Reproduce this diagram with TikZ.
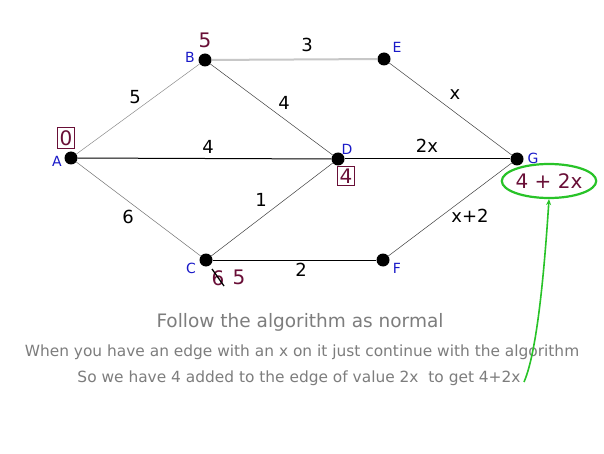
\documentclass[tikz,border=0pt]{standalone}
\usepackage{fontspec}
\setmainfont{DejaVu Sans}
\usepackage{tikz}
\usetikzlibrary{arrows.meta,shapes.geometric}

\definecolor{vname}{RGB}{25,25,200}
\definecolor{vval}{RGB}{105,15,55}
\definecolor{hand}{RGB}{40,195,40}
\definecolor{note}{RGB}{125,125,125}

\tikzset{
    vertex/.style={circle, fill=black, inner sep=0pt, minimum size=13pt},
    vlabel/.style={font={\fontsize{14}{16}\selectfont}, text=vname},
    wlabel/.style={font={\fontsize{18}{21}\selectfont}, black},
    dist/.style={font={\fontsize{20}{23}\selectfont}, text=vval},
    distbox/.style={dist, draw=vval, line width=1pt, inner sep=2.5pt},
    thinedge/.style={draw=black!75, line width=0.5pt},
    boldedge/.style={draw=black, line width=1pt}
}

\begin{document}
\begin{tikzpicture}[x=1pt, y=-1pt]
        \useasboundingbox[fill=white] (0,0) rectangle (604,454);

        % vertices
        \node[vertex] (A) at (71,158) {};
        \node[vertex] (B) at (205,60) {};
        \node[vertex] (E) at (384,59) {};
        \node[vertex] (D) at (338,159) {};
        \node[vertex] (G) at (517,159) {};
        \node[vertex] (C) at (206,260) {};
        \node[vertex] (F) at (383,260) {};

        % edges
        \draw[draw=black!45, line width=0.5pt] (A) -- (B);
        \draw[boldedge] (A) -- (D);
        \draw[draw=black!55, line width=0.5pt] (A) -- (C);
        \draw[draw=black!22, line width=2pt] (B) -- (E);
        \draw[thinedge] (B) -- (D);
        \draw[thinedge] (C) -- (D);
        \draw[boldedge] (C) -- (F);
        \draw[boldedge] (D) -- (G);
        \draw[thinedge] (E) -- (G);
        \draw[thinedge] (F) -- (G);

        % vertex names
        \node[vlabel] (nA) at (57,161) {A};
        \node[vlabel] (nB) at (190,57) {B};
        \node[vlabel] (nE) at (397,47) {E};
        \node[vlabel] (nD) at (347,149) {D};
        \node[vlabel] (nG) at (533,158) {G};
        \node[vlabel] (nC) at (191,268) {C};
        \node[vlabel] (nF) at (397,268) {F};

        % weights
        \node[wlabel] (wAB) at (135,97) {5};
        \node[wlabel] (wAD) at (208,147) {4};
        \node[wlabel] (wAC) at (128,217) {6};
        \node[wlabel] (wBE) at (307,45) {3};
        \node[wlabel] (wBD) at (284,103) {4};
        \node[wlabel] (wCD) at (261,200) {1};
        \node[wlabel] (wCF) at (301,270) {2};
        \node[wlabel] (wDG) at (427,146) {2x};
        \node[wlabel] (wEG) at (455,95) {x};
        \node[wlabel] (wFG) at (470,216) {x+2};

        % distances
        \node[distbox] (dA) at (66,138) {0};
        \node[dist] (dB) at (205,40) {5};
        \node[distbox] (dD) at (346,176) {4};
        \node[dist] (dC) at (218,278) {6};
        \draw[black, line width=1.3pt] (212,269) -- (224,286);
        \node[dist] (dC2) at (239,277) {5};

        \node[ellipse, draw=hand, line width=2.2pt, minimum width=84pt, minimum height=34pt,
              inner sep=0pt, dist] (dG) at (549,181) {4 + 2x};

        % notes
        \node[font={\fontsize{18.5}{21}\selectfont}, text=note] (t1) at (300,322) {Follow the algorithm as normal};
        \node[font={\fontsize{15.4}{18}\selectfont}, text=note] (t2) at (302,352) {When you have an edge with an x on it just continue with the algorithm};
        \node[font={\fontsize{15.4}{18}\selectfont}, text=note] (t3) at (299,378) {So we have 4 added to the edge of value 2x\ \ to get 4+2x};

        \coordinate (tail) at (524,382);
        \draw[hand, line width=1.6pt, -{Stealth[length=6pt,width=5pt]}] (tail) .. controls (538,350) and (545,260) .. (dG.south);
    \end{tikzpicture}
\end{document}
